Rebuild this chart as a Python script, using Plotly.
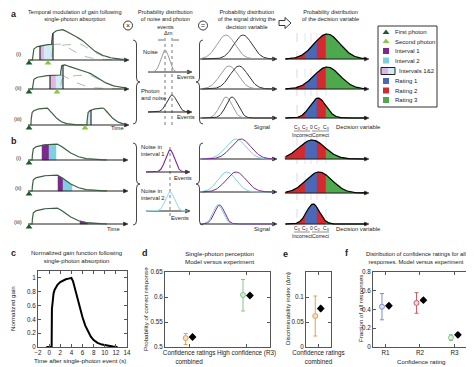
import numpy as np
import plotly.graph_objects as go

W, H = 474, 367          # reference picture size
OFF = 8                  # page body margin offset
FW, FH = W - OFF, H - OFF
FONT = "Liberation Sans, Arial, Helvetica, sans-serif"
TXT = "#222222"

# ---------------- data ----------------
# panel c: normalized gain function
gain_t = [-0.5, 0.0, 0.45, 0.5, 0.6, 0.8, 1.0, 1.5, 2.0, 2.5, 3.0, 3.5, 4.0, 4.3, 4.6, 5.0,
          5.5, 6.0, 6.5, 7.0, 7.5, 8.0, 8.7, 9.5, 10.5, 11.5, 12.3]
gain_v = [0.0, 0.0, 0.0, 0.55, 0.68, 0.78, 0.83, 0.90, 0.94, 0.965, 0.98, 0.99, 1.0, 0.95,
          0.86, 0.72, 0.56, 0.43, 0.31, 0.22, 0.15, 0.10, 0.06, 0.035, 0.016, 0.006, 0.0]
gain_xticks = [-2, 0, 2, 4, 6, 8, 10, 12, 14]
gain_yticks = [0, 0.2, 0.4, 0.6, 0.8, 1]

# panel d
d_cats = ["Confidence ratings<br>combined", "High confidence (R3)"]
d_model = [0.518, 0.604]
d_model_lo = [0.505, 0.572]
d_model_hi = [0.527, 0.635]
d_exp = [0.520, 0.603]
d_exp_err = [0.003, 0.003]
d_colors = ["#E2A05A", "#8CC48C"]
d_fill = ["#F6DEC0", "#D6EDD6"]

# panel e
e_cats = ["Confidence ratings<br>combined"]
e_model = [0.062]
e_model_lo = [0.022]
e_model_hi = [0.102]
e_exp = [0.077]
e_exp_err = [0.004]

# panel f
f_cats = ["R1", "R2", "R3"]
f_model = [0.43, 0.47, 0.10]
f_model_lo = [0.29, 0.36, 0.07]
f_model_hi = [0.57, 0.58, 0.13]
f_exp = [0.44, 0.50, 0.13]
f_exp_err = [0.018, 0.018, 0.018]
f_colors = ["#7E8ED0", "#D05A66", "#86C486"]
f_fill = ["#DCE1F4", "#F4D6DA", "#DCEFDC"]

# schematic colours
C_CURVE = "#3C5F44"
C_DASH = "#9DB8A2"
C_PH1 = "#1F5A2C"
C_PH2 = "#8CC63F"
C_INT1 = "#7B2A8C"
C_INT2 = "#7FCFE0"
C_INT1L = "#DDB6E2"
C_INT2L = "#D2ECF3"
C_R1 = "#4A68B8"
C_R2 = "#D42A2F"
C_R3 = "#4EA84E"

fig = go.Figure()


def dx(a, b):
    return [(a - OFF) / FW, (b - OFF) / FW]


def dy(top, bot):
    return [1 - (bot - OFF) / FH, 1 - (top - OFF) / FH]


ax_style = dict(showline=True, mirror="ticks", linecolor="#555", linewidth=0.8,
                ticks="inside", ticklen=3, tickcolor="#555", tickwidth=0.8, tickangle=0,
                showgrid=False, zeroline=False, fixedrange=True, automargin=False,
                tickfont=dict(size=6.3, family=FONT, color=TXT))

# ---------------- panel c ----------------
fig.add_trace(go.Scatter(x=gain_t, y=gain_v, mode="lines", line=dict(color="black", width=2),
                         xaxis="x", yaxis="y", showlegend=False, hoverinfo="skip"))

# ---------------- panel d ----------------
d_x = [1, 2]
for i in range(2):
    fig.add_trace(go.Scatter(
        x=[d_x[i] - 0.06], y=[d_model[i]], mode="markers",
        marker=dict(symbol="circle", size=5, color=d_fill[i], line=dict(color=d_colors[i], width=1)),
        error_y=dict(type="data", symmetric=False, array=[d_model_hi[i] - d_model[i]],
                     arrayminus=[d_model[i] - d_model_lo[i]], color=d_colors[i], thickness=1, width=2),
        xaxis="x2", yaxis="y2", showlegend=False, hoverinfo="skip"))
fig.add_trace(go.Scatter(
    x=[v + 0.06 for v in d_x], y=d_exp, mode="markers",
    marker=dict(symbol="diamond", size=6, color="black"),
    error_y=dict(type="data", array=d_exp_err, color="black", thickness=1.5, width=1.5),
    xaxis="x2", yaxis="y2", showlegend=False, hoverinfo="skip"))

# ---------------- panel e ----------------
fig.add_trace(go.Scatter(
    x=[0.87], y=e_model, mode="markers",
    marker=dict(symbol="circle", size=5, color=d_fill[0], line=dict(color=d_colors[0], width=1)),
    error_y=dict(type="data", symmetric=False, array=[e_model_hi[0] - e_model[0]],
                 arrayminus=[e_model[0] - e_model_lo[0]], color=d_colors[0], thickness=1, width=2),
    xaxis="x3", yaxis="y3", showlegend=False, hoverinfo="skip"))
fig.add_trace(go.Scatter(
    x=[1.09], y=e_exp, mode="markers", marker=dict(symbol="diamond", size=6, color="black"),
    error_y=dict(type="data", array=e_exp_err, color="black", thickness=1.5, width=1.5),
    xaxis="x3", yaxis="y3", showlegend=False, hoverinfo="skip"))

# ---------------- panel f ----------------
f_x = [1, 2, 3]
for i in range(3):
    fig.add_trace(go.Scatter(
        x=[f_x[i] - 0.1], y=[f_model[i]], mode="markers",
        marker=dict(symbol="circle", size=5, color=f_fill[i], line=dict(color=f_colors[i], width=1)),
        error_y=dict(type="data", symmetric=False, array=[f_model_hi[i] - f_model[i]],
                     arrayminus=[f_model[i] - f_model_lo[i]], color=f_colors[i], thickness=1, width=2),
        xaxis="x4", yaxis="y4", showlegend=False, hoverinfo="skip"))
fig.add_trace(go.Scatter(
    x=[v + 0.1 for v in f_x], y=f_exp, mode="markers", marker=dict(symbol="diamond", size=6, color="black"),
    error_y=dict(type="data", array=f_exp_err, color="black", thickness=1.5, width=1.5),
    xaxis="x4", yaxis="y4", showlegend=False, hoverinfo="skip"))

# ---------------- schematic (panels a, b) on pixel overlay ----------------
shapes = []
anns = []


def L(x, y, color="#222", width=1.0, dash=None):
    fig.add_trace(go.Scatter(x=list(x), y=list(y), mode="lines",
                             line=dict(color=color, width=width, dash=dash),
                             xaxis="x5", yaxis="y5", hoverinfo="skip", showlegend=False))


def P(x, y, fill):
    fig.add_trace(go.Scatter(x=list(x), y=list(y), mode="lines", fill="toself", fillcolor=fill,
                             line=dict(color=fill, width=0.5),
                             xaxis="x5", yaxis="y5", hoverinfo="skip", showlegend=False))


def MK(x, y, symbol, color, size):
    fig.add_trace(go.Scatter(x=[x], y=[y], mode="markers",
                             marker=dict(symbol=symbol, color=color, size=size, line=dict(width=0)),
                             xaxis="x5", yaxis="y5", hoverinfo="skip", showlegend=False))


def T(x, y, text, size=5.8, anchor="center", color=TXT, angle=0, bold=False):
    if bold:
        text = "<b>" + text + "</b>"
    anns.append(dict(x=x, y=y, xref="x5", yref="y5", text=text, showarrow=False,
                     font=dict(size=size, family=FONT, color=color), xanchor=anchor,
                     yanchor="middle", textangle=angle, align="center"))


def arrow_axis(x0, x1, y, color="#222", w=1.1):
    L([x0, x1 - 2], [y, y], color, w)
    P([x1 - 4.5, x1, x1 - 4.5, x1 - 4.5], [y - 2, y, y + 2, y - 2], color)


def gain(t):
    return np.interp(t, gain_t, gain_v, left=0, right=0)


def brace(x0, yt, yb, right=True):
    w = 3.5 if right else -3.5
    ym = (yt + yb) / 2
    p = (f"M {x0},{yt} Q {x0 + w},{yt} {x0 + w},{yt + 4} L {x0 + w},{ym - 4} "
         f"Q {x0 + w},{ym} {x0 + 2 * w},{ym} Q {x0 + w},{ym} {x0 + w},{ym + 4} "
         f"L {x0 + w},{yb - 4} Q {x0 + w},{yb} {x0},{yb}")
    shapes.append(dict(type="path", path=p, xref="x5", yref="y5", line=dict(color="#333", width=0.9)))


def gauss(x0, x1, base, mu, sd, h, n=160):
    x = np.linspace(x0, x1, n)
    return x, base - h * np.exp(-0.5 * ((x - mu) / sd) ** 2)


def band(x, y, base, a, b, color):
    m = (x >= a) & (x <= b)
    xs = np.concatenate([[a], x[m], [b]])
    ys = np.concatenate([[np.interp(a, x, y)], y[m], [np.interp(b, x, y)]])
    P(list(xs) + [b, a, a], list(ys) + [base, base, ys[0]], color)


# ---- titles panel a
T(9, 14, "a", size=9, anchor="left", bold=True)
T(9, 141, "b", size=9, anchor="left", bold=True)
T(75, 15, "Temporal modulation of gain following<br>single-photon absorption", size=5.6)
T(165, 19, "Probability distribution<br>of noise and photon<br>events", size=5.6)
T(247, 19, "Probability distribution<br>of the signal driving the<br>decision variable", size=5.6)
T(330, 15, "Probability distribution<br>of the decision variable", size=5.6)

# operators
for cx, sym in [(128, "×"), (203, "=")]:
    shapes.append(dict(type="circle", xref="x5", yref="y5", x0=cx - 4.5, x1=cx + 4.5, y0=21, y1=30,
                       line=dict(color="#222", width=0.9)))
    T(cx, 25.5, sym, size=7)
shapes.append(dict(type="path", xref="x5", yref="y5",
                   path="M 279,20.5 L 285,20.5 L 285,17.5 L 291,23 L 285,28.5 L 285,25.5 L 279,25.5 Z",
                   line=dict(color="#222", width=0.9), fillcolor="white"))

# ---- column 1, panel a
rows_a = [
    dict(base=60, ph=[29, 48], k=8, h=16, bands=[(40, 44, C_INT1L), (44, 53, C_INT2L)], edges=[40, 53],
         label="(i)", ly=54),
    dict(base=89, ph=[29, 57], k=8, h=14, bands=[(50, 56, C_INT1L), (56, 63, C_INT2L)], edges=[50, 63],
         label="(ii)", ly=88),
    dict(base=125, ph=[29, 85], k=4.5, h=17, bands=[(87, 91, C_INT2L)], edges=[91],
         label="(iii)", ly=119),
]
for r in rows_a:
    base = r["base"]
    x = np.linspace(30, 126, 500)
    comps = [gain((x - p) / r["k"]) for p in r["ph"]]
    tot = comps[0] + comps[1]
    y = base - r["h"] * tot
    for a, b, c in r["bands"]:
        band(x, y, base, a, b, c)
    if r["k"] > 5:
        j = r["ph"][1] + 3.6
        m = x >= j
        L(x[m], base - r["h"] * comps[0][m], C_DASH, 0.9, "dash")
        L(x[m], base - r["h"] * comps[1][m], C_DASH, 0.9, "dash")
    arrow_axis(28, 129, base)
    L(x, y, C_CURVE, 1.2)
    for e in r["edges"]:
        L([e, e], [base, np.interp(e, x, y)], "#222", 1.1)
    MK(r["ph"][0], base + 3, "triangle-up", C_PH1, 6)
    MK(r["ph"][1], base + 3, "triangle-up", C_PH2, 6)
    T(18, r["ly"], r["label"], size=5.8)
T(117, 128, "Time", size=5.8)

# ---- column 1, panel b
rows_b = [
    dict(base=160, bands=[(42, 49, C_INT1), (49, 56, C_INT2)], label="(i)", ly=158),
    dict(base=191, bands=[(58, 63, C_INT1), (63, 72, C_INT2)], label="(ii)", ly=188),
    dict(base=224, bands=[(80, 88, C_INT1), (88, 100, C_INT2)], label="(iii)", ly=222),
]
for r in rows_b:
    base = r["base"]
    x = np.linspace(30, 107, 400)
    y = base - 16 * gain((x - 29) / 7.0)
    for a, b, c in r["bands"]:
        band(x, y, base, a, b, c)
    arrow_axis(28, 128, base)
    L(x, y, C_CURVE, 1.2)
    MK(29, base + 3, "triangle-up", C_PH1, 6)
    T(18, r["ly"], r["label"], size=5.8)
T(113, 229, "Time", size=5.8)

# ---- column 2 (noise / photon distributions)
brace(133, 40, 124, True)
brace(133, 143, 225, True)
brace(203, 40, 124, False)
brace(203, 143, 225, False)

L([165, 165], [38, 126], "#555", 0.8, "dot")
L([172, 172], [38, 126], "#555", 0.8, "dot")
T(168, 33, "Δm", size=5.6)
L([158, 164], [40, 40], "#333", 0.7)
L([173, 179], [40, 40], "#333", 0.7)
arrow_axis(148, 192, 72)
gx, gy = gauss(148, 190, 72, 165, 4.0, 22)
L(gx, gy, "#9a9a9a", 1.0)
T(141, 52, "Noise", size=5.8, anchor="left")
T(186, 77, "Events", size=5.8)
arrow_axis(148, 192, 112)
gx, gy = gauss(148, 190, 112, 172, 5.0, 17)
L(gx, gy, "#333", 1.0)
T(139, 91, "Photon", size=5.8, anchor="left")
T(139, 98, "and noise", size=5.8, anchor="left")
T(186, 117, "Events", size=5.8)

L([170, 170], [147, 216], "#555", 0.8, "dot")
T(139, 147, "Noise in", size=5.8, anchor="left")
T(139, 154, "interval 1", size=5.8, anchor="left")
arrow_axis(146, 190, 172)
gx, gy = gauss(146, 188, 172, 170, 4.5, 22)
L(gx, gy, C_INT1, 1.1)
T(183, 178, "Events", size=5.8)
T(139, 191, "Noise in", size=5.8, anchor="left")
T(139, 198, "interval 2", size=5.8, anchor="left")
arrow_axis(146, 190, 211)
gx, gy = gauss(146, 188, 211, 170, 4.5, 19)
L(gx, gy, "#A6DCE8", 1.1)
T(180, 218, "Events", size=5.8)

# ---- column 3 (signal)
sig_a = [(59, [(226, 9, 24, "#9a9a9a"), (243, 9, 24, "#333")]),
         (89, [(229, 9, 23, "#9a9a9a"), (239, 9, 23, "#333")]),
         (118, [(226, 6, 21, "#9a9a9a"), (232, 6, 21, "#333")])]
for base, gs in sig_a:
    arrow_axis(200, 277, base)
    for mu, sd, h, c in gs:
        gx, gy = gauss(202, 274, base, mu, sd, h)
        L(gx, gy, c, 1.0)
sig_b = [(159, [(236, 10, 20, C_INT2), (241, 10, 20, C_INT1)]),
         (192, [(227, 9, 20, C_INT2), (236, 10, 20, C_INT1)]),
         (224, [(218, 5, 19, C_INT2), (219.5, 5, 19, C_INT1)])]
for base, gs in sig_b:
    arrow_axis(200, 277, base)
    for mu, sd, h, c in gs:
        gx, gy = gauss(202, 274, base, mu, sd, h)
        L(gx, gy, c, 1.0)
T(262, 127, "Signal", size=5.8)
T(262, 229, "Signal", size=5.8)

# ---- column 4 (decision variable)
thr = [297, 305, 311, 317, 326]
thr_cols = ["#c4c4c4", "#b8e0ea", "#e2c4e2", "#ecc0d6", "#b8e0ea"]
for y0, y1 in [(33, 121), (137, 224)]:
    for tx, tc in zip(thr, thr_cols):
        L([tx, tx], [y0, y1], tc, 0.6, "dash")

segs = [(285, 305, C_R2), (305, 317, C_R1), (317, 326, C_R2), (326, 366, C_R3)]
dec = [(59, 327, 13, 25), (89, 327, 13, 22), (118, 318, 8, 20),
       (159, 312, 13, 19), (193, 319, 13, 21), (224, 313, 6.5, 20)]
for base, mu, sd, h in dec:
    gx, gy = gauss(286, 366, base, mu, sd, h, 300)
    for a, b, c in segs:
        band(gx, gy, base, a, b, c)
    arrow_axis(285, 369, base)
    L(gx, gy, "black", 1.2)

for yc, yi in [(127, 135), (228, 236)]:
    for tx, lab in zip(thr, ["C<sub>3</sub>", "C<sub>2</sub>", "0", "C<sub>2</sub>", "C<sub>3</sub>"]):
        T(tx, yc, lab, size=5)
    L([294, 310], [yc + 4, yc + 4], "#444", 0.6)
    L([312, 329], [yc + 4, yc + 4], "#444", 0.6)
    T(302, yi, "Incorrect", size=5.2)
    T(321, yi, "Correct", size=5.2)
T(358, 127, "Decision variable", size=5.8)
T(358, 229, "Decision variable", size=5.8)

# ---- legend
shapes.append(dict(type="rect", xref="x5", yref="y5", x0=378, x1=437, y0=26, y1=107,
                   line=dict(color="#333", width=1), fillcolor="white", layer="below"))
MK(386, 32.5, "triangle-up", C_PH1, 6)
MK(386, 41.5, "triangle-up", C_PH2, 6)
for yy, col in [(51, C_INT1), (60.5, C_INT2), (81, C_R1), (90.5, C_R2), (100, C_R3)]:
    MK(386, yy, "square", col, 6)
shapes.append(dict(type="rect", xref="x5", yref="y5", x0=381, x1=388, y0=67.5, y1=74.5,
                   line=dict(width=0), fillcolor=C_INT1L))
shapes.append(dict(type="rect", xref="x5", yref="y5", x0=388, x1=395, y0=67.5, y1=74.5,
                   line=dict(width=0), fillcolor=C_INT2L))
shapes.append(dict(type="rect", xref="x5", yref="y5", x0=381, x1=395, y0=67.5, y1=74.5,
                   line=dict(color="#222", width=1)))
for yy, lab, xx in [(32, "First photon", 393), (41.5, "Second photon", 393), (51, "Interval 1", 393),
                    (60.5, "Interval 2", 393), (71, "Intervals 1&2", 397), (81, "Rating 1", 393),
                    (90.5, "Rating 2", 393), (100, "Rating 3", 393)]:
    T(xx, yy, lab, size=6, anchor="left")

# ---- lower panels: letters, titles, axis titles
T(9, 253, "c", size=9, anchor="left", bold=True)
T(140, 253, "d", size=9, anchor="left", bold=True)
T(281, 254, "e", size=9, anchor="left", bold=True)
T(343, 253, "f", size=9, anchor="left", bold=True)
T(76, 257, "Normalized gain function following<br>single-photon absorption", size=6)
T(220, 257, "Single-photon perception<br>Model versus experiment", size=6.2)
T(416, 258, "Distribution of confidence ratings for all<br>responses. Model versus experiment", size=5.8)
T(12, 309, "Normalized gain", size=6.2, angle=-90)
T(145, 309, "Probability of correct response", size=6.2, angle=-90)
T(287, 309, "Discriminability index (Δm)", size=6.2, angle=-90)
T(360, 309, "Fraction of all responses", size=6.2, angle=-90)
T(80, 360, "Time after single-photon event (s)", size=6.2)
T(421, 361, "Confidence rating", size=6.2)

layout_axes = dict(
    xaxis=dict(ax_style, domain=dx(38, 127), range=[-2, 14], tickvals=gain_xticks, anchor="y"),
    yaxis=dict(ax_style, domain=dy(271, 347), range=[0, 1.1], tickvals=gain_yticks,
               ticktext=[str(v) for v in gain_yticks], anchor="x"),
    xaxis2=dict(ax_style, domain=dx(165, 270), range=[0.58, 2.41], tickvals=d_x, ticktext=d_cats,
                anchor="y2"),
    yaxis2=dict(ax_style, domain=dy(272, 347), range=[0.5, 0.65], tickvals=[0.5, 0.55, 0.6, 0.65],
                ticktext=["0.5", "0.55", "0.6", "0.65"], anchor="x2"),
    xaxis3=dict(ax_style, domain=dx(306, 331), range=[0.5, 1.5], tickvals=[1], ticktext=e_cats,
                anchor="y3"),
    yaxis3=dict(ax_style, domain=dy(272, 347), range=[0, 0.15], tickvals=[0, 0.05, 0.1],
                ticktext=["0", "0.05", "0.1"], anchor="x3"),
    xaxis4=dict(ax_style, domain=dx(373, 470), range=[0.64, 3.45], tickvals=f_x, ticktext=f_cats,
                anchor="y4"),
    yaxis4=dict(ax_style, domain=dy(272, 347), range=[0, 0.8], tickvals=[0, 0.2, 0.4, 0.6, 0.8],
                ticktext=["0", "0.2", "0.4", "0.6", "0.8"], anchor="x4"),
    xaxis5=dict(domain=[0, 1], range=[OFF, W], visible=False, fixedrange=True, anchor="y5",
                automargin=False),
    yaxis5=dict(domain=[0, 1], range=[H, OFF], visible=False, fixedrange=True, anchor="x5",
                automargin=False),
)

fig.update_layout(
    width=FW, height=FH, margin=dict(l=0, r=0, t=0, b=0, pad=0, autoexpand=False),
    paper_bgcolor="white", plot_bgcolor="rgba(0,0,0,0)",
    font=dict(family=FONT, size=6.3, color=TXT),
    shapes=shapes, annotations=anns, showlegend=False,
    **layout_axes,
)

fig.write_html("out.html")
